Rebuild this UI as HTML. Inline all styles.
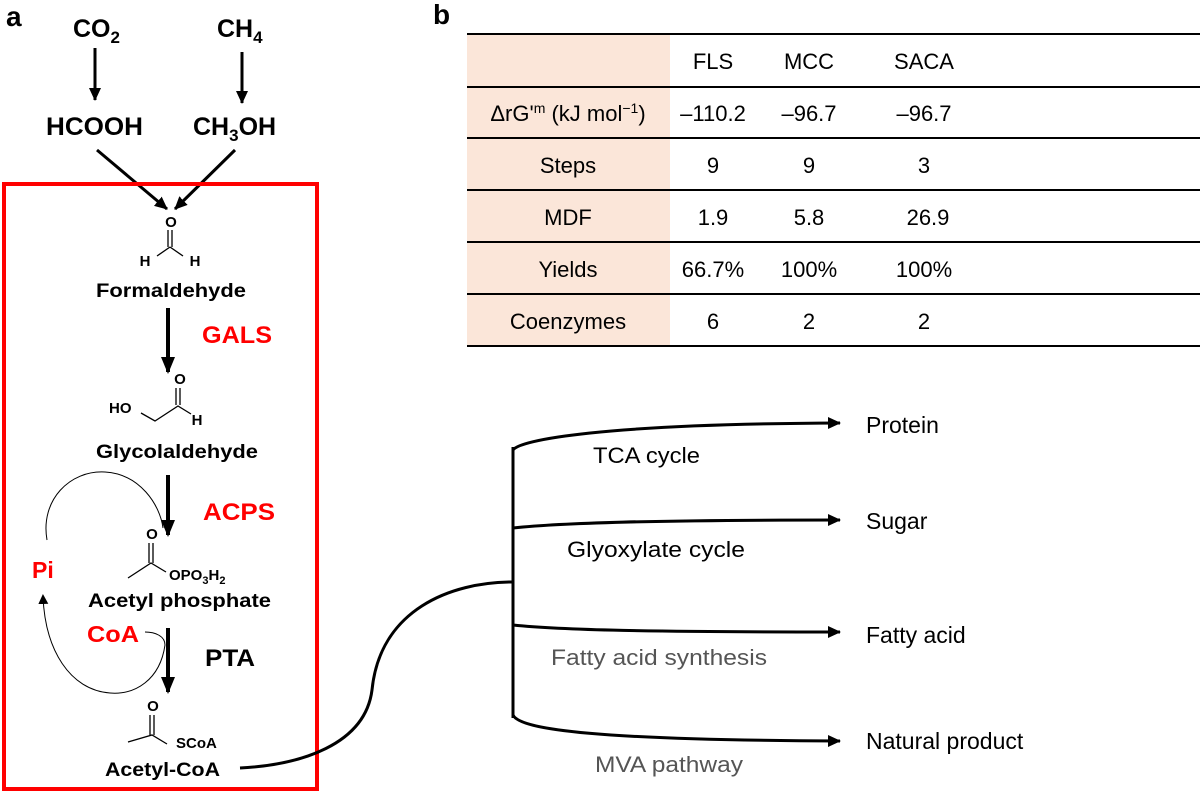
<!DOCTYPE html>
<html><head><meta charset="utf-8"><style>
html,body{margin:0;padding:0;background:#fff}
svg{display:block}
text{font-family:"Liberation Sans",Arial,sans-serif}
.b{font-weight:bold}
</style></head><body>
<svg width="1200" height="793" viewBox="0 0 1200 793" xmlns="http://www.w3.org/2000/svg">
<defs>
<marker id="ah" markerWidth="10" markerHeight="10" refX="8" refY="5" orient="auto" markerUnits="userSpaceOnUse"><path d="M0,0 L10,5 L0,10 z" fill="#000"/></marker>
<marker id="ah2" markerWidth="14" markerHeight="14" refX="12" refY="7" orient="auto" markerUnits="userSpaceOnUse"><path d="M0,1 L13,7 L0,13 z" fill="#000"/></marker>
<marker id="ah3" markerWidth="18" markerHeight="18" refX="15" refY="9" orient="auto" markerUnits="userSpaceOnUse"><path d="M0,2 L17,9 L0,16 z" fill="#000"/></marker>
</defs>
<!-- panel a -->
<text x="6" y="26" class="b" font-size="28">a</text>
<text x="73" y="37" class="b" font-size="25">CO<tspan font-size="17" dy="6">2</tspan></text>
<text x="217" y="37" class="b" font-size="25">CH<tspan font-size="17" dy="6">4</tspan></text>
<line x1="95" y1="48" x2="95" y2="100" stroke="#000" stroke-width="3" marker-end="url(#ah2)"/>
<line x1="242" y1="52" x2="242" y2="103" stroke="#000" stroke-width="3" marker-end="url(#ah2)"/>
<text x="46" y="135" class="b" font-size="25" textLength="97" lengthAdjust="spacingAndGlyphs">HCOOH</text>
<text x="193" y="135" class="b" font-size="25">CH<tspan font-size="17" dy="6">3</tspan><tspan dy="-6">OH</tspan></text>
<line x1="97" y1="150" x2="167" y2="209" stroke="#000" stroke-width="3" marker-end="url(#ah2)"/>
<line x1="235" y1="150" x2="175" y2="209" stroke="#000" stroke-width="3" marker-end="url(#ah2)"/>
<rect x="4" y="184" width="313" height="605" fill="none" stroke="#f00" stroke-width="4"/>
<!-- formaldehyde -->
<text x="171" y="227" class="b" font-size="15" text-anchor="middle">O</text>
<line x1="168" y1="230" x2="168" y2="247" stroke="#000" stroke-width="1.3"/><line x1="172" y1="230" x2="172" y2="247" stroke="#000" stroke-width="1.3"/>
<line x1="170" y1="247" x2="157" y2="256" stroke="#000" stroke-width="1.3"/><line x1="170" y1="247" x2="183" y2="256" stroke="#000" stroke-width="1.3"/>
<text x="145" y="266" class="b" font-size="15" text-anchor="middle">H</text>
<text x="195" y="266" class="b" font-size="15" text-anchor="middle">H</text>
<text x="96" y="297" class="b" font-size="19" textLength="150" lengthAdjust="spacingAndGlyphs">Formaldehyde</text>
<line x1="168" y1="308" x2="168" y2="372" stroke="#000" stroke-width="4" marker-end="url(#ah3)"/>
<text x="202" y="343" class="b" font-size="24" fill="#f00" textLength="70" lengthAdjust="spacingAndGlyphs">GALS</text>
<!-- glycolaldehyde -->
<text x="180" y="384" class="b" font-size="15" text-anchor="middle">O</text>
<line x1="176" y1="388" x2="176" y2="405" stroke="#000" stroke-width="1.3"/><line x1="180" y1="388" x2="180" y2="405" stroke="#000" stroke-width="1.3"/>
<polyline points="141,413 155,421 178,406 191,414" fill="none" stroke="#000" stroke-width="1.3"/>
<text x="109" y="413" class="b" font-size="15">HO</text>
<text x="197" y="425" class="b" font-size="15" text-anchor="middle">H</text>
<text x="96" y="458" class="b" font-size="19" textLength="162" lengthAdjust="spacingAndGlyphs">Glycolaldehyde</text>
<line x1="168" y1="475" x2="168" y2="535" stroke="#000" stroke-width="4" marker-end="url(#ah3)"/>
<text x="203" y="520" class="b" font-size="24" fill="#f00" textLength="72" lengthAdjust="spacingAndGlyphs">ACPS</text>
<!-- acetyl phosphate -->
<text x="152" y="539" class="b" font-size="15" text-anchor="middle">O</text>
<line x1="149" y1="543" x2="149" y2="563" stroke="#000" stroke-width="1.3"/><line x1="153" y1="543" x2="153" y2="563" stroke="#000" stroke-width="1.3"/>
<polyline points="128,578 151,563 166,572" fill="none" stroke="#000" stroke-width="1.3"/>
<text x="169" y="580" class="b" font-size="15">OPO<tspan font-size="11" dy="4">3</tspan><tspan dy="-4">H</tspan><tspan font-size="11" dy="4">2</tspan></text>
<text x="88" y="607" class="b" font-size="19" textLength="183" lengthAdjust="spacingAndGlyphs">Acetyl phosphate</text>
<text x="32" y="578" class="b" font-size="23" fill="#f00">Pi</text>
<text x="87" y="642" class="b" font-size="23" fill="#f00" textLength="52" lengthAdjust="spacingAndGlyphs">CoA</text>
<text x="205" y="666" class="b" font-size="24" textLength="50" lengthAdjust="spacingAndGlyphs">PTA</text>
<line x1="168" y1="628" x2="168" y2="692" stroke="#000" stroke-width="4" marker-end="url(#ah3)"/>
<path d="M47,540 C40,500 70,470 105,472 C140,474 160,505 163,528" fill="none" stroke="#000" stroke-width="1"/>
<path d="M145,632 C155,632 165,636 165,645 C160,680 135,695 110,693 C70,690 45,650 43,596" fill="none" stroke="#000" stroke-width="1" marker-end="url(#ah)"/>
<!-- acetyl-coA -->
<text x="153" y="711" class="b" font-size="15" text-anchor="middle">O</text>
<line x1="150" y1="715" x2="150" y2="735" stroke="#000" stroke-width="1.3"/><line x1="154" y1="715" x2="154" y2="735" stroke="#000" stroke-width="1.3"/>
<polyline points="128,742 152,735 167,744" fill="none" stroke="#000" stroke-width="1.3"/>
<text x="176" y="748" class="b" font-size="15">SCoA</text>
<text x="105" y="776" class="b" font-size="19" textLength="115" lengthAdjust="spacingAndGlyphs">Acetyl-CoA</text>
<!-- connector -->
<path d="M240,768 C300,765 365,745 372,690 C380,610 450,582 513,582" fill="none" stroke="#000" stroke-width="3"/>
<line x1="513" y1="447" x2="513" y2="718" stroke="#000" stroke-width="3"/>
<path d="M513,450 C520,440 600,424 840,423" fill="none" stroke="#000" stroke-width="3" marker-end="url(#ah2)"/>
<path d="M513,528 C560,523 650,520 840,520" fill="none" stroke="#000" stroke-width="3" marker-end="url(#ah2)"/>
<path d="M513,625 C560,630 650,632 840,632" fill="none" stroke="#000" stroke-width="3" marker-end="url(#ah2)"/>
<path d="M513,715 C520,730 600,740 840,741" fill="none" stroke="#000" stroke-width="3" marker-end="url(#ah2)"/>
<text x="866" y="433" font-size="23">Protein</text>
<text x="866" y="529" font-size="23">Sugar</text>
<text x="866" y="643" font-size="23">Fatty acid</text>
<text x="866" y="749" font-size="23">Natural product</text>
<text x="593" y="463" font-size="22" textLength="107" lengthAdjust="spacingAndGlyphs">TCA cycle</text>
<text x="567" y="557" font-size="22" textLength="178" lengthAdjust="spacingAndGlyphs">Glyoxylate cycle</text>
<text x="551" y="665" font-size="22" fill="#555" textLength="216" lengthAdjust="spacingAndGlyphs">Fatty acid synthesis</text>
<text x="595" y="772" font-size="22" fill="#555" textLength="148" lengthAdjust="spacingAndGlyphs">MVA pathway</text>
<!-- panel b -->
<text x="433" y="24" class="b" font-size="28">b</text>
<rect x="467" y="34" width="203" height="312" fill="#fbe6d9"/>
<g stroke="#000" stroke-width="2">
<line x1="467" y1="34" x2="1200" y2="34"/><line x1="467" y1="87" x2="1200" y2="87"/>
<line x1="467" y1="138" x2="1200" y2="138"/><line x1="467" y1="190" x2="1200" y2="190"/>
<line x1="467" y1="242" x2="1200" y2="242"/><line x1="467" y1="294" x2="1200" y2="294"/>
<line x1="467" y1="346" x2="1200" y2="346"/>
</g>
<g font-size="22" text-anchor="middle">
<text x="713" y="69">FLS</text><text x="809" y="69">MCC</text><text x="924" y="69">SACA</text>
<text x="568" y="121">ΔrG'<tspan font-size="14" dy="-8">m</tspan><tspan dy="8"> (kJ mol</tspan><tspan font-size="14" dy="-8">−1</tspan><tspan dy="8">)</tspan></text>
<text x="713" y="121">–110.2</text><text x="809" y="121">–96.7</text><text x="924" y="121">–96.7</text>
<text x="568" y="173">Steps</text><text x="713" y="173">9</text><text x="809" y="173">9</text><text x="924" y="173">3</text>
<text x="568" y="225">MDF</text><text x="713" y="225">1.9</text><text x="809" y="225">5.8</text><text x="928" y="225">26.9</text>
<text x="568" y="277">Yields</text><text x="713" y="277">66.7%</text><text x="809" y="277">100%</text><text x="924" y="277">100%</text>
<text x="568" y="329">Coenzymes</text><text x="713" y="329">6</text><text x="809" y="329">2</text><text x="924" y="329">2</text>
</g>
</svg>
</body></html>
